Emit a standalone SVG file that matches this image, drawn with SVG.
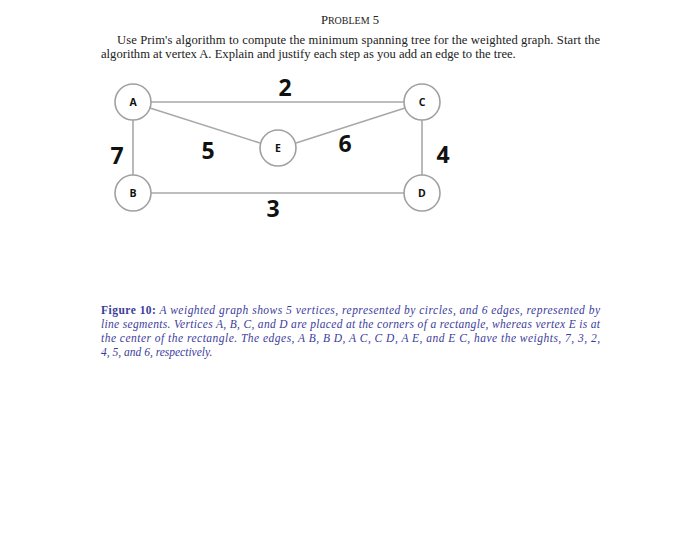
<svg xmlns="http://www.w3.org/2000/svg" width="700" height="557" viewBox="0 0 700 557">
<style>
.t{font-family:"Liberation Serif",serif;font-size:12.6px;fill:#222}
.cap{font-family:"Liberation Serif",serif;font-size:11.5px;font-style:italic;fill:#3c3c9c}
.e{stroke:#a8a8a8;stroke-width:1.6;fill:none}
.n{fill:#fff;stroke:#a0a0a0;stroke-width:1.6}
.nl{font-family:"Open Sans",sans-serif;font-weight:bold;font-size:10.5px;fill:#111;text-anchor:middle}
.w{font-family:"Open Sans",sans-serif;font-weight:bold;font-size:23px;fill:#111;text-anchor:middle}
</style>
<rect width="700" height="557" fill="#fff"/>
<text class="t" x="350" y="24" text-anchor="middle" style="font-size:12.6px">P<tspan style="font-size:10px">ROBLEM</tspan> 5</text>
<text class="t" x="117" y="44" textLength="483" lengthAdjust="spacing">Use Prim's algorithm to compute the minimum spanning tree for the weighted graph. Start the</text>
<text class="t" x="101" y="58">algorithm at vertex A. Explain and justify each step as you add an edge to the tree.</text>
<g id="connectors">
<line class="e" x1="151" y1="102" x2="404" y2="102"/>
<line class="e" x1="133" y1="120" x2="133" y2="175"/>
<line class="e" x1="422" y1="120" x2="422" y2="175"/>
<line class="e" x1="151" y1="193" x2="404" y2="193"/>
<line class="e" x1="150" y1="108" x2="260" y2="143"/>
<line class="e" x1="296" y1="143" x2="405" y2="108"/>
</g>
<g id="weights">
<text class="w" x="285" y="96">2</text>
<text class="w" x="117" y="164">7</text>
<text class="w" x="208" y="159">5</text>
<text class="w" x="345" y="152">6</text>
<text class="w" x="443" y="163">4</text>
<text class="w" x="273" y="217">3</text>
</g>
<g id="node-A"><circle class="n" cx="133" cy="102" r="18"/><text class="nl" x="133" y="106">A</text></g>
<g id="node-C"><circle class="n" cx="422" cy="102" r="18"/><text class="nl" x="422" y="106">C</text></g>
<g id="node-E"><circle class="n" cx="278" cy="148" r="18"/><text class="nl" x="278" y="152">E</text></g>
<g id="node-B"><circle class="n" cx="133" cy="193" r="18"/><text class="nl" x="133" y="197">B</text></g>
<g id="node-D"><circle class="n" cx="422" cy="193" r="18"/><text class="nl" x="422" y="197">D</text></g>
<text class="cap" x="101" y="314" textLength="499" lengthAdjust="spacing"><tspan style="font-style:normal;font-weight:bold">Figure 10:</tspan> A weighted graph shows 5 vertices, represented by circles, and 6 edges, represented by</text>
<text class="cap" x="101" y="328" textLength="499" lengthAdjust="spacing">line segments. Vertices A, B, C, and D are placed at the corners of a rectangle, whereas vertex E is at</text>
<text class="cap" x="101" y="342" textLength="499" lengthAdjust="spacing">the center of the rectangle. The edges, A B, B D, A C, C D, A E, and E C, have the weights, 7, 3, 2,</text>
<text class="cap" x="101" y="356">4, 5, and 6, respectively.</text>
</svg>
